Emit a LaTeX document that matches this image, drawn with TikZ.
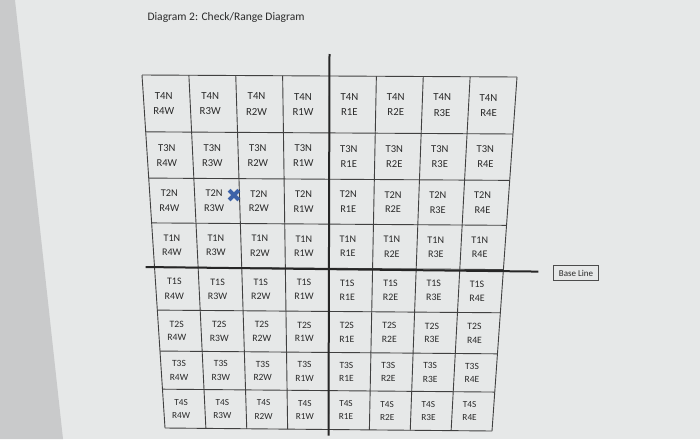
\documentclass[tikz,border=0pt]{standalone}
\usepackage{fontspec}
\setmainfont{Carlito}
\newfontfamily\symfont{DejaVu Sans}
\usetikzlibrary{calc}
\definecolor{paperGray}{HTML}{E6E8E8}
\definecolor{deskGray}{HTML}{C9CACB}
\definecolor{inkGray}{HTML}{2A2A2A}
\definecolor{markBlue}{HTML}{3D62A8}
\tikzset{
     cellNode/.style =
        { align=center
        , inner sep=0pt
        , text=inkGray
        , xshift=-3pt
        }
   , gridLine/.style =
        { draw=black!75
        , line width=0.9pt
        }
   , axisLine/.style =
        { draw=black!85
        , line width=2pt
        }
   , noteBox/.style =
        { draw=black!70
        , line width=0.8pt
        , inner xsep=5pt
        , inner ysep=4pt
        , font=\fontsize{9}{10}\selectfont
        , text=inkGray
        }
}

\begin{document}
\begin{tikzpicture}
            [ x=1pt
            , y=-1pt
            ]
            \useasboundingbox (0,0) rectangle (700,439);
            % paper and desk
            \fill[paperGray] (0,0) rectangle (700,439);
            \fill[deskGray] (0,0) -- (15,0) -- (63,439) -- (0,439) -- cycle;

            \node[anchor=west, text=inkGray, font=\fontsize{11.5}{13}\selectfont] (title) at (144,17) {Diagram 2: Check/Range Diagram};

            % corners of the (tilted) grid
            \coordinate (TL) at (142,75);
            \coordinate (TR) at (517,77);
            \coordinate (BL) at (165,428);
            \coordinate (BR) at (492,431);

            \foreach \v [count=\j from 0] in {0,.161,.292,.419,.544,.666,.782,.890,1}
              \foreach \i in {0,...,8}
                \coordinate (p-\i-\j) at ($($(TL)!\i/8!(TR)$)!\v!($(BL)!\i/8!(BR)$)$);

            \foreach \k in {0,...,8}
              {
              \draw[gridLine] (p-0-\k) -- (p-8-\k);
              \draw[gridLine] (p-\k-0) -- (p-\k-8);
              }

            % cell labels
            \foreach \rowName [count=\j from 0] in {T4N,T3N,T2N,T1N,T1S,T2S,T3S,T4S}
              \foreach \colName [count=\i from 0] in {R4W,R3W,R2W,R1W,R1E,R2E,R3E,R4E}
                {
                \pgfmathtruncatemacro\ii{\i+1}
                \pgfmathtruncatemacro\jj{\j+1}
                \pgfmathsetmacro\fs{10.8-0.22*\j}
                \pgfmathsetmacro\bs{\fs*1.42}
                \node[cellNode, font=\fontsize{\fs}{\bs}\selectfont] (c-\i-\j)
                  at ($(p-\i-\j)!.5!(p-\ii-\jj)$) {\rowName\\\colName};
                }

            % axes
            \coordinate (axisTop) at ($(p-4-0)+(0,-22)$);
            \coordinate (axisBot) at ($(p-4-8)+(0,6)$);
            \coordinate (baseLeft) at ($(p-0-4)+(-9,0)$);
            \coordinate (baseRight) at ($(p-8-4)+(35,2)$);
            \draw[axisLine] (axisTop) -- (axisBot);
            \draw[axisLine] (baseLeft) -- (baseRight);

            \node[noteBox] (base) at (576,273) {Base Line};

            % check mark
            \node[text=markBlue, font=\symfont\fontsize{19}{19}\selectfont, inner sep=0pt] (check)
              at ($(c-1-2)+(20,-5)$) {✖};
\end{tikzpicture}
\end{document}
